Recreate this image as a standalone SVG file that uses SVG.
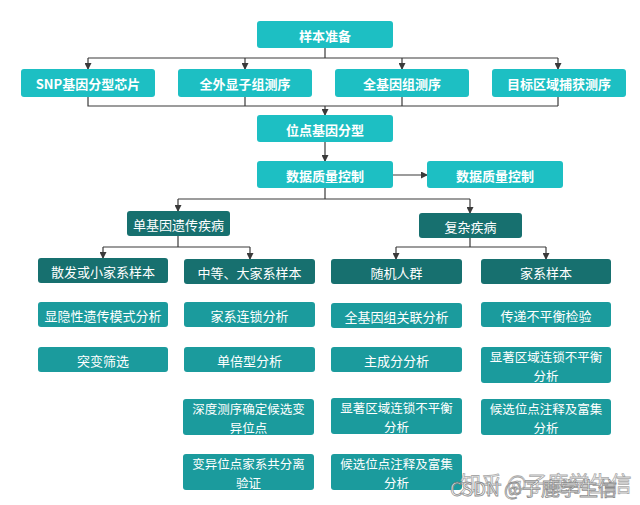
<svg xmlns="http://www.w3.org/2000/svg" width="640" height="505" viewBox="0 0 640 505">
<style>
.t{font-family:"Noto Sans CJK SC","Liberation Sans",sans-serif;font-size:13px;fill:#fff;text-anchor:middle;dominant-baseline:central}
.t2{font-size:12.5px}
.b{font-weight:bold}
.lt{fill:#1dbfc3}
.dk{fill:#17706f}
.md{fill:#1b9b9d}
.c{fill:none;stroke:#3a3a3a;stroke-width:1.2}
.wm{font-family:"Noto Sans CJK SC","Liberation Sans",sans-serif;font-size:21px;fill:#fff;stroke:#9a9a9a;stroke-width:0.8;opacity:0.85}
</style>
<defs>
<marker id="a" markerWidth="7" markerHeight="7" refX="6" refY="3.5" orient="auto" markerUnits="userSpaceOnUse">
<path d="M0,0 L7,3.5 L0,7 z" fill="#3a3a3a"/>
</marker>
</defs>
<rect width="640" height="505" fill="#fff"/>
<g id="connectors">
<path class="c" d="M325,48 V58 M88,58 H558"/>
<path class="c" d="M88,58 V69" marker-end="url(#a)"/>
<path class="c" d="M245,58 V69" marker-end="url(#a)"/>
<path class="c" d="M402,58 V69" marker-end="url(#a)"/>
<path class="c" d="M558,58 V69" marker-end="url(#a)"/>
<path class="c" d="M88,97 V106 H558 M245,97 V106 M402,97 V106 M558,97 V106"/>
<path class="c" d="M325,106 V115" marker-end="url(#a)"/>
<path class="c" d="M325,142 V161" marker-end="url(#a)"/>
<path class="c" d="M393,175 H427" marker-end="url(#a)"/>
<path class="c" d="M325,188 V199 M178,199 H470"/>
<path class="c" d="M178,199 V211" marker-end="url(#a)"/>
<path class="c" d="M470,199 V213" marker-end="url(#a)"/>
<path class="c" d="M178,236 V247 M103,247 H250"/>
<path class="c" d="M103,247 V258" marker-end="url(#a)"/>
<path class="c" d="M250,247 V259" marker-end="url(#a)"/>
<path class="c" d="M470,238 V247 M396,247 H546"/>
<path class="c" d="M396,247 V259" marker-end="url(#a)"/>
<path class="c" d="M546,247 V259" marker-end="url(#a)"/>
</g>
<g id="n1"><rect class="lt" x="257" y="21" width="136" height="27" rx="3"/><text class="t b" x="325" y="35">样本准备</text></g>
<g id="n2"><rect class="lt" x="21" y="69" width="134" height="28" rx="3"/><text class="t b" x="88" y="83">SNP基因分型芯片</text></g>
<g id="n3"><rect class="lt" x="178" y="69" width="134" height="28" rx="3"/><text class="t b" x="245" y="83">全外显子组测序</text></g>
<g id="n4"><rect class="lt" x="335" y="69" width="134" height="28" rx="3"/><text class="t b" x="402" y="83">全基因组测序</text></g>
<g id="n5"><rect class="lt" x="492" y="69" width="134" height="28" rx="3"/><text class="t b" x="559" y="83">目标区域捕获测序</text></g>
<g id="n6"><rect class="lt" x="257" y="115" width="136" height="27" rx="3"/><text class="t b" x="325" y="129">位点基因分型</text></g>
<g id="n7"><rect class="lt" x="257" y="161" width="136" height="27" rx="3"/><text class="t b" x="325" y="175">数据质量控制</text></g>
<g id="n8"><rect class="lt" x="427" y="161" width="136" height="27" rx="3"/><text class="t b" x="495" y="175">数据质量控制</text></g>
<g id="n9"><rect class="dk" x="127" y="211" width="103" height="25" rx="3"/><text class="t" x="178.5" y="224">单基因遗传疾病</text></g>
<g id="n10"><rect class="dk" x="419" y="213" width="103" height="25" rx="3"/><text class="t" x="470.5" y="226">复杂疾病</text></g>
<g id="n11"><rect class="dk" x="38" y="258" width="130" height="25" rx="3"/><text class="t" x="103" y="271">散发或小家系样本</text></g>
<g id="n12"><rect class="dk" x="184" y="259" width="131" height="25" rx="3"/><text class="t" x="249.5" y="272">中等、大家系样本</text></g>
<g id="n13"><rect class="dk" x="331" y="259" width="131" height="25" rx="3"/><text class="t" x="396.5" y="272">随机人群</text></g>
<g id="n14"><rect class="dk" x="481" y="259" width="130" height="25" rx="3"/><text class="t" x="546" y="272">家系样本</text></g>
<g id="n15"><rect class="md" x="38" y="302" width="130" height="25" rx="3"/><text class="t" x="103" y="315">显隐性遗传模式分析</text></g>
<g id="n16"><rect class="md" x="38" y="347" width="130" height="25" rx="3"/><text class="t" x="103" y="360">突变筛选</text></g>
<g id="n17"><rect class="md" x="184" y="302" width="131" height="25" rx="3"/><text class="t" x="249.5" y="315">家系连锁分析</text></g>
<g id="n18"><rect class="md" x="184" y="347" width="131" height="25" rx="3"/><text class="t" x="249.5" y="360">单倍型分析</text></g>
<g id="n19"><rect class="md" x="183" y="399" width="131" height="36" rx="3"/><text class="t t2"><tspan x="248.5" y="408.2">深度测序确定候选变</tspan><tspan x="248.5" y="426.5">异位点</tspan></text></g>
<g id="n20"><rect class="md" x="183" y="454" width="131" height="36" rx="3"/><text class="t t2"><tspan x="248.5" y="463.2">变异位点家系共分离</tspan><tspan x="248.5" y="481.5">验证</tspan></text></g>
<g id="n21"><rect class="md" x="331" y="303" width="131" height="25" rx="3"/><text class="t" x="396.5" y="316">全基因组关联分析</text></g>
<g id="n22"><rect class="md" x="331" y="347" width="131" height="25" rx="3"/><text class="t" x="396.5" y="360">主成分分析</text></g>
<g id="n23"><rect class="md" x="331" y="398" width="131" height="36" rx="3"/><text class="t t2"><tspan x="396.5" y="407.2">显著区域连锁不平衡</tspan><tspan x="396.5" y="425.5">分析</tspan></text></g>
<g id="n24"><rect class="md" x="331" y="454" width="131" height="36" rx="3"/><text class="t t2"><tspan x="396.5" y="463.2">候选位点注释及富集</tspan><tspan x="396.5" y="481.5">分析</tspan></text></g>
<g id="n25"><rect class="md" x="481" y="302" width="130" height="25" rx="3"/><text class="t" x="546" y="315">传递不平衡检验</text></g>
<g id="n26"><rect class="md" x="481" y="347" width="130" height="36" rx="3"/><text class="t t2"><tspan x="546" y="356.2">显著区域连锁不平衡</tspan><tspan x="546" y="374.5">分析</tspan></text></g>
<g id="n27"><rect class="md" x="481" y="399" width="130" height="36" rx="3"/><text class="t t2"><tspan x="546" y="408.2">候选位点注释及富集</tspan><tspan x="546" y="426.5">分析</tspan></text></g>
<g id="watermark">
<text class="wm"><tspan x="460" y="491">知乎 @子鹿学生信</tspan><tspan x="450" y="496" style="font-size:19px;stroke:#777">CSDN @子鹿学生信</tspan></text>
</g>
</svg>
